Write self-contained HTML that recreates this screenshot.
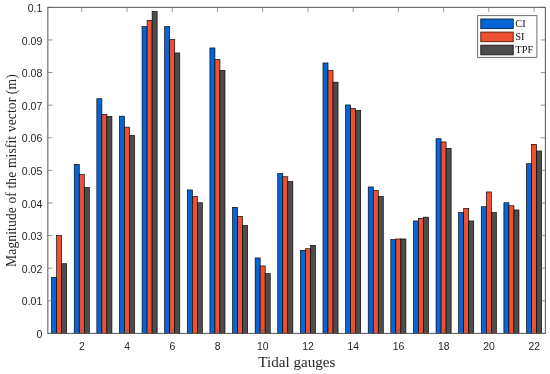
<!DOCTYPE html>
<html><head><meta charset="utf-8"><title>Misfit vector</title>
<style>
html,body{margin:0;padding:0;background:#fff;}
body{width:550px;height:374px;overflow:hidden;}
svg{display:block;}
.tk{font-family:"Liberation Sans",sans-serif;font-size:10px;fill:#262626;}
.lb{font-family:"Liberation Serif",serif;font-size:14px;fill:#262626;}
.lg{font-family:"Liberation Serif",serif;font-size:10.4px;fill:#111;}
</style></head><body>
<svg width="550" height="374" viewBox="0 0 550 374">
<rect width="550" height="374" fill="#fff"/>
<rect x="51.62" y="277.35" width="5.03" height="56.05" fill="#0565D6" stroke="#000" stroke-width="0.65"/>
<rect x="56.64" y="235.35" width="5.03" height="98.05" fill="#EE5030" stroke="#000" stroke-width="0.65"/>
<rect x="61.67" y="263.75" width="5.03" height="69.65" fill="#4D4D4D" stroke="#000" stroke-width="0.65"/>
<rect x="74.23" y="164.35" width="5.03" height="169.05" fill="#0565D6" stroke="#000" stroke-width="0.65"/>
<rect x="79.26" y="174.55" width="5.03" height="158.85" fill="#EE5030" stroke="#000" stroke-width="0.65"/>
<rect x="84.28" y="187.55" width="5.03" height="145.85" fill="#4D4D4D" stroke="#000" stroke-width="0.65"/>
<rect x="96.85" y="98.75" width="5.03" height="234.65" fill="#0565D6" stroke="#000" stroke-width="0.65"/>
<rect x="101.87" y="114.35" width="5.03" height="219.05" fill="#EE5030" stroke="#000" stroke-width="0.65"/>
<rect x="106.90" y="116.55" width="5.03" height="216.85" fill="#4D4D4D" stroke="#000" stroke-width="0.65"/>
<rect x="119.46" y="116.15" width="5.03" height="217.25" fill="#0565D6" stroke="#000" stroke-width="0.65"/>
<rect x="124.49" y="127.15" width="5.03" height="206.25" fill="#EE5030" stroke="#000" stroke-width="0.65"/>
<rect x="129.51" y="135.35" width="5.03" height="198.05" fill="#4D4D4D" stroke="#000" stroke-width="0.65"/>
<rect x="142.07" y="26.55" width="5.03" height="306.85" fill="#0565D6" stroke="#000" stroke-width="0.65"/>
<rect x="147.10" y="20.35" width="5.03" height="313.05" fill="#EE5030" stroke="#000" stroke-width="0.65"/>
<rect x="152.12" y="11.55" width="5.03" height="321.85" fill="#4D4D4D" stroke="#000" stroke-width="0.65"/>
<rect x="164.69" y="26.55" width="5.03" height="306.85" fill="#0565D6" stroke="#000" stroke-width="0.65"/>
<rect x="169.71" y="39.55" width="5.03" height="293.85" fill="#EE5030" stroke="#000" stroke-width="0.65"/>
<rect x="174.74" y="52.95" width="5.03" height="280.45" fill="#4D4D4D" stroke="#000" stroke-width="0.65"/>
<rect x="187.30" y="189.95" width="5.03" height="143.45" fill="#0565D6" stroke="#000" stroke-width="0.65"/>
<rect x="192.33" y="196.35" width="5.03" height="137.05" fill="#EE5030" stroke="#000" stroke-width="0.65"/>
<rect x="197.35" y="202.75" width="5.03" height="130.65" fill="#4D4D4D" stroke="#000" stroke-width="0.65"/>
<rect x="209.91" y="47.95" width="5.03" height="285.45" fill="#0565D6" stroke="#000" stroke-width="0.65"/>
<rect x="214.94" y="59.55" width="5.03" height="273.85" fill="#EE5030" stroke="#000" stroke-width="0.65"/>
<rect x="219.96" y="70.35" width="5.03" height="263.05" fill="#4D4D4D" stroke="#000" stroke-width="0.65"/>
<rect x="232.53" y="207.35" width="5.03" height="126.05" fill="#0565D6" stroke="#000" stroke-width="0.65"/>
<rect x="237.55" y="216.35" width="5.03" height="117.05" fill="#EE5030" stroke="#000" stroke-width="0.65"/>
<rect x="242.58" y="225.35" width="5.03" height="108.05" fill="#4D4D4D" stroke="#000" stroke-width="0.65"/>
<rect x="255.14" y="257.95" width="5.03" height="75.45" fill="#0565D6" stroke="#000" stroke-width="0.65"/>
<rect x="260.17" y="265.95" width="5.03" height="67.45" fill="#EE5030" stroke="#000" stroke-width="0.65"/>
<rect x="265.19" y="273.55" width="5.03" height="59.85" fill="#4D4D4D" stroke="#000" stroke-width="0.65"/>
<rect x="277.76" y="173.55" width="5.03" height="159.85" fill="#0565D6" stroke="#000" stroke-width="0.65"/>
<rect x="282.78" y="176.75" width="5.03" height="156.65" fill="#EE5030" stroke="#000" stroke-width="0.65"/>
<rect x="287.81" y="181.55" width="5.03" height="151.85" fill="#4D4D4D" stroke="#000" stroke-width="0.65"/>
<rect x="300.37" y="250.35" width="5.03" height="83.05" fill="#0565D6" stroke="#000" stroke-width="0.65"/>
<rect x="305.39" y="248.75" width="5.03" height="84.65" fill="#EE5030" stroke="#000" stroke-width="0.65"/>
<rect x="310.42" y="245.35" width="5.03" height="88.05" fill="#4D4D4D" stroke="#000" stroke-width="0.65"/>
<rect x="322.98" y="62.95" width="5.03" height="270.45" fill="#0565D6" stroke="#000" stroke-width="0.65"/>
<rect x="328.01" y="70.55" width="5.03" height="262.85" fill="#EE5030" stroke="#000" stroke-width="0.65"/>
<rect x="333.03" y="82.15" width="5.03" height="251.25" fill="#4D4D4D" stroke="#000" stroke-width="0.65"/>
<rect x="345.60" y="104.95" width="5.03" height="228.45" fill="#0565D6" stroke="#000" stroke-width="0.65"/>
<rect x="350.62" y="108.35" width="5.03" height="225.05" fill="#EE5030" stroke="#000" stroke-width="0.65"/>
<rect x="355.65" y="110.35" width="5.03" height="223.05" fill="#4D4D4D" stroke="#000" stroke-width="0.65"/>
<rect x="368.21" y="186.95" width="5.03" height="146.45" fill="#0565D6" stroke="#000" stroke-width="0.65"/>
<rect x="373.24" y="190.35" width="5.03" height="143.05" fill="#EE5030" stroke="#000" stroke-width="0.65"/>
<rect x="378.26" y="196.55" width="5.03" height="136.85" fill="#4D4D4D" stroke="#000" stroke-width="0.65"/>
<rect x="390.82" y="239.55" width="5.03" height="93.85" fill="#0565D6" stroke="#000" stroke-width="0.65"/>
<rect x="395.85" y="238.95" width="5.03" height="94.45" fill="#EE5030" stroke="#000" stroke-width="0.65"/>
<rect x="400.87" y="238.95" width="5.03" height="94.45" fill="#4D4D4D" stroke="#000" stroke-width="0.65"/>
<rect x="413.44" y="220.95" width="5.03" height="112.45" fill="#0565D6" stroke="#000" stroke-width="0.65"/>
<rect x="418.46" y="218.35" width="5.03" height="115.05" fill="#EE5030" stroke="#000" stroke-width="0.65"/>
<rect x="423.49" y="217.15" width="5.03" height="116.25" fill="#4D4D4D" stroke="#000" stroke-width="0.65"/>
<rect x="436.05" y="138.75" width="5.03" height="194.65" fill="#0565D6" stroke="#000" stroke-width="0.65"/>
<rect x="441.08" y="141.95" width="5.03" height="191.45" fill="#EE5030" stroke="#000" stroke-width="0.65"/>
<rect x="446.10" y="148.35" width="5.03" height="185.05" fill="#4D4D4D" stroke="#000" stroke-width="0.65"/>
<rect x="458.66" y="212.55" width="5.03" height="120.85" fill="#0565D6" stroke="#000" stroke-width="0.65"/>
<rect x="463.69" y="208.55" width="5.03" height="124.85" fill="#EE5030" stroke="#000" stroke-width="0.65"/>
<rect x="468.71" y="220.95" width="5.03" height="112.45" fill="#4D4D4D" stroke="#000" stroke-width="0.65"/>
<rect x="481.28" y="206.75" width="5.03" height="126.65" fill="#0565D6" stroke="#000" stroke-width="0.65"/>
<rect x="486.30" y="191.95" width="5.03" height="141.45" fill="#EE5030" stroke="#000" stroke-width="0.65"/>
<rect x="491.33" y="212.55" width="5.03" height="120.85" fill="#4D4D4D" stroke="#000" stroke-width="0.65"/>
<rect x="503.89" y="202.75" width="5.03" height="130.65" fill="#0565D6" stroke="#000" stroke-width="0.65"/>
<rect x="508.92" y="205.75" width="5.03" height="127.65" fill="#EE5030" stroke="#000" stroke-width="0.65"/>
<rect x="513.94" y="209.95" width="5.03" height="123.45" fill="#4D4D4D" stroke="#000" stroke-width="0.65"/>
<rect x="526.51" y="163.75" width="5.03" height="169.65" fill="#0565D6" stroke="#000" stroke-width="0.65"/>
<rect x="531.53" y="144.35" width="5.03" height="189.05" fill="#EE5030" stroke="#000" stroke-width="0.65"/>
<rect x="536.56" y="150.95" width="5.03" height="182.45" fill="#4D4D4D" stroke="#000" stroke-width="0.65"/>
<rect x="47.85" y="7.35" width="497.5" height="326.04999999999995" fill="none" stroke="#555" stroke-width="1"/>
<path d="M81.77 333.4v-4.6M81.77 7.35v4.6" stroke="#666" stroke-width="0.7" fill="none"/>
<text transform="translate(81.97 349.55) scale(1.04 1)" text-anchor="middle" class="tk">2</text>
<path d="M127.00 333.4v-4.6M127.00 7.35v4.6" stroke="#666" stroke-width="0.7" fill="none"/>
<text transform="translate(127.20 349.55) scale(1.04 1)" text-anchor="middle" class="tk">4</text>
<path d="M172.22 333.4v-4.6M172.22 7.35v4.6" stroke="#666" stroke-width="0.7" fill="none"/>
<text transform="translate(172.42 349.55) scale(1.04 1)" text-anchor="middle" class="tk">6</text>
<path d="M217.45 333.4v-4.6M217.45 7.35v4.6" stroke="#666" stroke-width="0.7" fill="none"/>
<text transform="translate(217.65 349.55) scale(1.04 1)" text-anchor="middle" class="tk">8</text>
<path d="M262.68 333.4v-4.6M262.68 7.35v4.6" stroke="#666" stroke-width="0.7" fill="none"/>
<text transform="translate(262.88 349.55) scale(1.04 1)" text-anchor="middle" class="tk">10</text>
<path d="M307.91 333.4v-4.6M307.91 7.35v4.6" stroke="#666" stroke-width="0.7" fill="none"/>
<text transform="translate(308.11 349.55) scale(1.04 1)" text-anchor="middle" class="tk">12</text>
<path d="M353.13 333.4v-4.6M353.13 7.35v4.6" stroke="#666" stroke-width="0.7" fill="none"/>
<text transform="translate(353.33 349.55) scale(1.04 1)" text-anchor="middle" class="tk">14</text>
<path d="M398.36 333.4v-4.6M398.36 7.35v4.6" stroke="#666" stroke-width="0.7" fill="none"/>
<text transform="translate(398.56 349.55) scale(1.04 1)" text-anchor="middle" class="tk">16</text>
<path d="M443.59 333.4v-4.6M443.59 7.35v4.6" stroke="#666" stroke-width="0.7" fill="none"/>
<text transform="translate(443.79 349.55) scale(1.04 1)" text-anchor="middle" class="tk">18</text>
<path d="M488.82 333.4v-4.6M488.82 7.35v4.6" stroke="#666" stroke-width="0.7" fill="none"/>
<text transform="translate(489.02 349.55) scale(1.04 1)" text-anchor="middle" class="tk">20</text>
<path d="M534.04 333.4v-4.6M534.04 7.35v4.6" stroke="#666" stroke-width="0.7" fill="none"/>
<text transform="translate(534.24 349.55) scale(1.04 1)" text-anchor="middle" class="tk">22</text>
<path d="M47.85 333.40h4.6M545.35 333.40h-4.6" stroke="#666" stroke-width="0.7" fill="none"/>
<text transform="translate(42.4 337.95) scale(1.06 1)" text-anchor="end" class="tk">0</text>
<path d="M47.85 300.79h4.6M545.35 300.79h-4.6" stroke="#666" stroke-width="0.7" fill="none"/>
<text transform="translate(42.4 305.34) scale(1.06 1)" text-anchor="end" class="tk">0.01</text>
<path d="M47.85 268.19h4.6M545.35 268.19h-4.6" stroke="#666" stroke-width="0.7" fill="none"/>
<text transform="translate(42.4 272.74) scale(1.06 1)" text-anchor="end" class="tk">0.02</text>
<path d="M47.85 235.58h4.6M545.35 235.58h-4.6" stroke="#666" stroke-width="0.7" fill="none"/>
<text transform="translate(42.4 240.13) scale(1.06 1)" text-anchor="end" class="tk">0.03</text>
<path d="M47.85 202.98h4.6M545.35 202.98h-4.6" stroke="#666" stroke-width="0.7" fill="none"/>
<text transform="translate(42.4 207.53) scale(1.06 1)" text-anchor="end" class="tk">0.04</text>
<path d="M47.85 170.38h4.6M545.35 170.38h-4.6" stroke="#666" stroke-width="0.7" fill="none"/>
<text transform="translate(42.4 174.93) scale(1.06 1)" text-anchor="end" class="tk">0.05</text>
<path d="M47.85 137.77h4.6M545.35 137.77h-4.6" stroke="#666" stroke-width="0.7" fill="none"/>
<text transform="translate(42.4 142.32) scale(1.06 1)" text-anchor="end" class="tk">0.06</text>
<path d="M47.85 105.16h4.6M545.35 105.16h-4.6" stroke="#666" stroke-width="0.7" fill="none"/>
<text transform="translate(42.4 109.71) scale(1.06 1)" text-anchor="end" class="tk">0.07</text>
<path d="M47.85 72.56h4.6M545.35 72.56h-4.6" stroke="#666" stroke-width="0.7" fill="none"/>
<text transform="translate(42.4 77.11) scale(1.06 1)" text-anchor="end" class="tk">0.08</text>
<path d="M47.85 39.96h4.6M545.35 39.96h-4.6" stroke="#666" stroke-width="0.7" fill="none"/>
<text transform="translate(42.4 44.51) scale(1.06 1)" text-anchor="end" class="tk">0.09</text>
<path d="M47.85 7.35h4.6M545.35 7.35h-4.6" stroke="#666" stroke-width="0.7" fill="none"/>
<text transform="translate(42.4 11.90) scale(1.06 1)" text-anchor="end" class="tk">0.1</text>
<text transform="translate(296.9 367.1) scale(1.08 1)" text-anchor="middle" class="lb">Tidal gauges</text>
<text transform="translate(15.8 170.6) rotate(-90)" text-anchor="middle" class="lb" style="font-size:13.6px" textLength="192.6" lengthAdjust="spacing">Magnitude of the misfit vector (m)</text>
<rect x="477.6" y="15.6" width="59.3" height="41.8" fill="#fff" stroke="#707070" stroke-width="1"/>
<rect x="480.8" y="19.0" width="32.4" height="9.6" fill="#0565D6" stroke="#0A2448" stroke-width="0.9"/>
<text x="515.3" y="27.4" class="lg">CI</text>
<rect x="480.8" y="32.1" width="32.4" height="9.6" fill="#EE5030" stroke="#5A1A0C" stroke-width="0.9"/>
<text x="515.3" y="40.0" class="lg">SI</text>
<rect x="480.8" y="45.2" width="32.4" height="9.6" fill="#4D4D4D" stroke="#161616" stroke-width="0.9"/>
<text x="515.3" y="53.4" class="lg">TPF</text>
</svg>
</body></html>
